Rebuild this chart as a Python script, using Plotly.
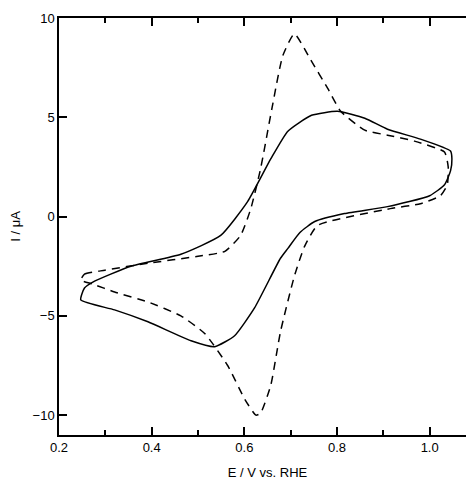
import plotly.graph_objects as go

solid_E = [0.247, 0.255, 0.273, 0.355, 0.463, 0.549, 0.607, 0.657, 0.694, 0.745, 0.801, 0.86, 0.909, 0.98, 1.045,
           1.048, 1.045, 1.032, 1.0, 0.909, 0.816, 0.752, 0.72, 0.694, 0.678, 0.622, 0.579, 0.536, 0.485, 0.392, 0.32, 0.247]
solid_I = [-4.2, -3.6, -3.3, -2.5, -1.9, -0.95, 0.75, 2.9, 4.3, 5.1, 5.3, 4.95, 4.4, 3.9, 3.3,
           2.9, 2.3, 1.6, 1.05, 0.5, 0.15, -0.25, -0.8, -1.6, -2.1, -4.6, -6.0, -6.55, -6.25, -5.3, -4.7, -4.2]

dash_E = [0.247, 0.255, 0.299, 0.392, 0.5, 0.558, 0.592, 0.614, 0.635, 0.66, 0.683, 0.708, 0.743, 0.78, 0.808, 0.86, 0.909, 0.967, 1.032,
          1.04, 1.038, 1.023, 0.98, 0.915, 0.758, 0.73, 0.708, 0.678, 0.657, 0.635, 0.625, 0.601, 0.564, 0.515, 0.463, 0.392, 0.32, 0.273, 0.247]
dash_I = [-3.2, -2.9, -2.7, -2.35, -2.0, -1.75, -0.95, 0.4, 2.4, 5.5, 8.1, 9.2, 7.9, 6.45, 5.3, 4.35, 4.1, 3.8, 3.25,
          2.5, 1.6, 1.05, 0.65, 0.4, -0.45, -1.5, -3.0, -5.8, -8.5, -9.9, -10.0, -9.2, -7.5, -5.9, -5.0, -4.3, -3.8, -3.4, -3.2]

fig = go.Figure()
fig.add_trace(go.Scatter(x=solid_E, y=solid_I, mode="lines",
                         line=dict(color="black", width=1.5, shape="spline", smoothing=0.5)))
fig.add_trace(go.Scatter(x=dash_E, y=dash_I, mode="lines",
                         line=dict(color="black", width=1.5, dash="8px,6px", shape="spline", smoothing=0.5)))

font = dict(family="Liberation Sans, Arial", size=13, color="black")
ax = dict(showgrid=False, zeroline=False, showline=True, linecolor="black", linewidth=1.5,
          mirror="ticks", ticks="inside", ticklen=8, tickwidth=1.5, tickcolor="black",
          tickfont=font, automargin=False)
fig.update_layout(
    width=474, height=479, showlegend=False,
    paper_bgcolor="white", plot_bgcolor="white",
    margin=dict(l=51, r=6, t=10, b=52),
    xaxis=dict(ax, range=[0.2, 1.1], tickvals=[0.2, 0.4, 0.6, 0.8, 1.0], ticktext=["0.2", "0.4", "0.6", "0.8", "1.0"],
               minor=dict(tickvals=[0.3, 0.5, 0.7, 0.9], ticks="inside", ticklen=5, tickwidth=1.5, tickcolor="black"),
               title=dict(text="E / V vs. RHE", font=font, standoff=14)),
    yaxis=dict(ax, range=[-11, 10], tickvals=[-10, -5, 0, 5, 10],
               title=dict(text="I / μA", font=font, standoff=10)),
)
fig.write_html("out.html")
